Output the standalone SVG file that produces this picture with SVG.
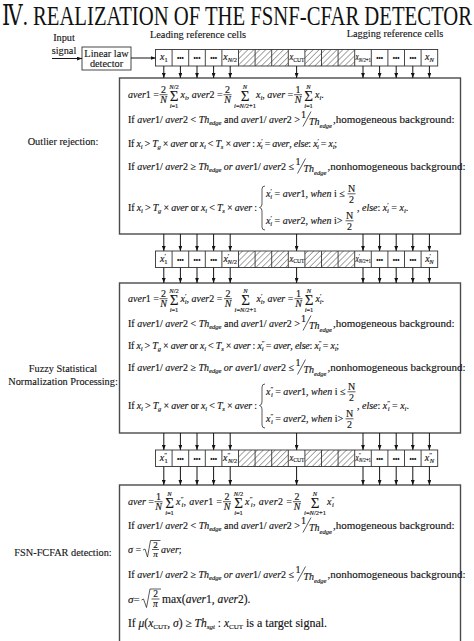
<svg xmlns="http://www.w3.org/2000/svg" width="474" height="641" viewBox="0 0 474 641">
<defs>
<style>
.m{font-family:"Liberation Serif","Times New Roman","DejaVu Serif",serif;font-size:10px;fill:#141414;stroke:#141414;stroke-width:0.15}
.w{font-size:11px}
.i{font-style:italic}
.u{font-style:normal}
.s{font-size:6.5px}
.p{font-size:7px}
.c{text-anchor:middle}
.sg{font-size:15px}
.lb{font-family:"Liberation Serif","Times New Roman",serif;font-size:10.3px;fill:#141414;stroke:#141414;stroke-width:0.12;text-anchor:middle}
.ln{stroke:#141414;stroke-width:0.7;fill:none}
.bx{fill:#fff;stroke:#4a4a4a;stroke-width:1.4}
.cell{fill:none;stroke:#333;stroke-width:0.9}
.ar{stroke:#141414;stroke-width:1;fill:none;marker-end:url(#ah)}
.dots{font-family:"Liberation Sans","DejaVu Sans",sans-serif;font-size:6.5px;font-weight:bold;text-anchor:middle;fill:#141414}
</style>
<marker id="ah" viewBox="0 0 8 6" refX="8" refY="3" markerWidth="5" markerHeight="4" orient="auto" markerUnits="userSpaceOnUse"><path d="M0,0 L8,3 L0,6 z" fill="#141414"/></marker>
<pattern id="hatch" patternUnits="userSpaceOnUse" width="4.2" height="4.2" patternTransform="rotate(45)"><line x1="0" y1="0" x2="0" y2="4.2" stroke="#222" stroke-width="0.8"/></pattern>
</defs>
<rect width="474" height="641" fill="#fff"/>

<g id="title"><text transform="translate(2,24.5) scale(1,1.35)" textLength="470" lengthAdjust="spacingAndGlyphs" style="font-family:'Liberation Serif','DejaVu Serif',serif;font-size:20.5px;fill:#111">Ⅳ. REALIZATION OF THE FSNF-CFAR DETECTOR</text></g>

<g id="input-signal"><text class="lb" x="64" y="41">Input</text><text class="lb" x="64" y="54">signal</text></g>

<g id="linear-law-detector"><rect x="82" y="47" width="49" height="23" fill="#fff" stroke="#333" stroke-width="0.9"/><text class="lb" x="106.5" y="56.5">Linear law</text><text class="lb" x="106.5" y="67">detector</text></g>

<g id="leading-label"><text class="lb" x="198" y="38">Leading reference cells</text></g>
<g id="lagging-label"><text class="lb" x="395" y="37">Lagging reference cells</text></g>

<g id="cells-row1">
<rect x="238.5" y="49.5" width="49.8" height="16.5" fill="url(#hatch)"/><rect x="304.9" y="49.5" width="49.8" height="16.5" fill="url(#hatch)"/>
<rect class="cell" x="155.5" y="49.5" width="282.2" height="16.5"/>
<path class="cell" d="M172.1,49.5v16.5M188.7,49.5v16.5M205.3,49.5v16.5M221.9,49.5v16.5M238.5,49.5v16.5M255.1,49.5v16.5M271.7,49.5v16.5M288.3,49.5v16.5M304.9,49.5v16.5M321.5,49.5v16.5M338.1,49.5v16.5M354.7,49.5v16.5M371.3,49.5v16.5M387.9,49.5v16.5M404.5,49.5v16.5M421.1,49.5v16.5"/>
<text class="m c" x="163.8" y="60"><tspan class="i">x</tspan><tspan class="s" dy="2">1</tspan></text>
<text class="dots" x="180.4" y="60">•••</text><text class="dots" x="197" y="60">•••</text><text class="dots" x="213.6" y="60">•••</text>
<text class="m c" x="230.2" y="60"><tspan class="i">x</tspan><tspan class="s i" dy="2">N</tspan><tspan class="s">/2</tspan></text>
<text class="m" x="289.5" y="60" textLength="15" lengthAdjust="spacingAndGlyphs"><tspan class="i">x</tspan><tspan class="s" dy="1.5">CUT</tspan></text>
<text class="m" x="355.5" y="60" textLength="15.5" lengthAdjust="spacingAndGlyphs"><tspan class="i">x</tspan><tspan class="s i" dy="1.5">N</tspan><tspan class="s">/2+1</tspan></text>
<text class="dots" x="379.6" y="60">•••</text><text class="dots" x="396.2" y="60">•••</text><text class="dots" x="412.8" y="60">•••</text>
<text class="m c" x="429.4" y="60"><tspan class="i">x</tspan><tspan class="s i" dy="2">N</tspan></text>
</g>

<g id="outlier-rejection-box">
<rect class="bx" x="119.5" y="78" width="341" height="156"/>
<text class="m" x="128" y="98"><tspan class="i">aver</tspan>1 =</text>
<text class="m c" x="163.5" y="92.7">2</text><path class="ln" d="M159.5,94.7H167.5"/><text class="m c i" x="163.5" y="103">N</text>
<text class="m c sg" x="174" y="100.5">Σ</text><text class="m c s i" x="174" y="88.5">N<tspan class="u">/2</tspan></text><text class="m c s" x="174" y="107.5"><tspan class="i">i</tspan>=1</text>
<text class="m" x="180.5" y="98"><tspan class="i">x</tspan><tspan class="s i" dy="2">i</tspan><tspan dy="-2">, </tspan><tspan class="i">aver</tspan>2 =</text>
<text class="m c" x="227.5" y="92.7">2</text><path class="ln" d="M223.5,94.7H231.5"/><text class="m c i" x="227.5" y="103">N</text>
<text class="m c sg" x="245" y="100.5">Σ</text><text class="m c s i" x="245" y="88.5">N</text><text class="m c s" x="245" y="107.5"><tspan class="i">i</tspan>=<tspan class="i">N</tspan>/2+1</text>
<text class="m" x="256" y="98"><tspan class="i">x</tspan><tspan class="s i" dy="2">i</tspan><tspan dy="-2">, </tspan><tspan class="i">aver</tspan> =</text>
<text class="m c" x="298" y="92.7">1</text><path class="ln" d="M294,94.7H302"/><text class="m c i" x="298" y="103">N</text>
<text class="m c sg" x="308.5" y="100.5">Σ</text><text class="m c s i" x="308.5" y="88.5">N</text><text class="m c s" x="308.5" y="107.5"><tspan class="i">i</tspan>=1</text>
<text class="m" x="315" y="98"><tspan class="i">x</tspan><tspan class="s i" dy="2">i</tspan><tspan dy="-2">.</tspan></text>

<text class="m" x="128" y="123">If <tspan class="i">aver</tspan>1/ <tspan class="i">aver</tspan>2 &lt; <tspan class="i">Th</tspan><tspan class="s i" dy="2">edge</tspan><tspan dy="-2"> and </tspan><tspan class="i">aver</tspan>1/ <tspan class="i">aver</tspan>2 &gt;</text>
<text class="m" x="301" y="117.5">1</text><path class="ln" d="M303,126.5L311,111.5"/><text class="m" x="309" y="125"><tspan class="i">Th</tspan><tspan class="s i" dy="2.5">edge</tspan></text>
<text class="m w" x="333" y="123">,homogeneous background:</text>

<text class="m" x="128" y="147" textLength="209" lengthAdjust="spacing">If <tspan class="i">x</tspan><tspan class="s i" dy="2">i</tspan><tspan dy="-2"> &gt; </tspan><tspan class="i">T</tspan><tspan class="s i" dy="2">g</tspan><tspan dy="-2"> × </tspan><tspan class="i">aver</tspan> or <tspan class="i">x</tspan><tspan class="s i" dy="2">i</tspan><tspan dy="-2"> &lt; </tspan><tspan class="i">T</tspan><tspan class="s i" dy="2">s</tspan><tspan dy="-2"> × </tspan><tspan class="i">aver</tspan> : <tspan class="i">x</tspan><tspan class="p" dy="-4">′</tspan><tspan class="s i" dx="-1.8" dy="6">i</tspan><tspan dy="-2"> = </tspan><tspan class="i">aver</tspan>, <tspan class="i">else</tspan>: <tspan class="i">x</tspan><tspan class="p" dy="-4">′</tspan><tspan class="s i" dx="-1.8" dy="6">i</tspan><tspan dy="-2"> = </tspan><tspan class="i">x</tspan><tspan class="s i" dy="2">i</tspan><tspan dy="-2">;</tspan></text>

<text class="m" x="128" y="170">If <tspan class="i">aver</tspan>1/ <tspan class="i">aver</tspan>2 ≥ <tspan class="i">Th</tspan><tspan class="s i" dy="2">edge</tspan><tspan class="i" dy="-2"> or </tspan><tspan class="i">aver</tspan>1/ <tspan class="i">aver</tspan>2 ≤</text>
<text class="m" x="295.5" y="164.5">1</text><path class="ln" d="M297.5,173.5L305.5,158.5"/><text class="m" x="303.5" y="172"><tspan class="i">Th</tspan><tspan class="s i" dy="2.5">edge</tspan></text>
<text class="m w" x="327.5" y="170">,nonhomogeneous background:</text>

<text class="m" x="128" y="210.5" textLength="129" lengthAdjust="spacing">If <tspan class="i">x</tspan><tspan class="s i" dy="2">i</tspan><tspan dy="-2"> &gt; </tspan><tspan class="i">T</tspan><tspan class="s i" dy="2">g</tspan><tspan dy="-2"> × </tspan><tspan class="i">aver</tspan> or <tspan class="i">x</tspan><tspan class="s i" dy="2">i</tspan><tspan dy="-2"> &lt; </tspan><tspan class="i">T</tspan><tspan class="s i" dy="2">s</tspan><tspan dy="-2"> × </tspan><tspan class="i">aver</tspan> :</text>
<path class="ln" d="M265,186Q262,186 262,189L262,204Q262,207 259.5,207.5Q262,208 262,211L262,227Q262,230 265,230"/>
<text class="m" x="266" y="197"><tspan class="i">x</tspan><tspan class="p" dy="-4">′</tspan><tspan class="s i" dx="-1.8" dy="6">i</tspan><tspan dy="-2"> = </tspan><tspan class="i">aver</tspan>1, <tspan class="i">when</tspan> i ≤</text>
<text class="m c" x="351.5" y="192.3">N</text><path class="ln" d="M347.5,193.8H355.5"/><text class="m c" x="351.5" y="202.5">2</text>
<text class="m" x="357" y="210.5">, <tspan class="i">else</tspan>: <tspan class="i">x</tspan><tspan class="p" dy="-4">′</tspan><tspan class="s i" dx="-1.8" dy="6">i</tspan><tspan dy="-2"> = </tspan><tspan class="i">x</tspan><tspan class="s i" dy="2">i</tspan><tspan dy="-2">.</tspan></text>
<text class="m" x="266" y="224"><tspan class="i">x</tspan><tspan class="p" dy="-4">′</tspan><tspan class="s i" dx="-1.8" dy="6">i</tspan><tspan dy="-2"> = </tspan><tspan class="i">aver</tspan>2, <tspan class="i">when</tspan> i&gt;</text>
<text class="m c" x="349.5" y="219.3">N</text><path class="ln" d="M345.5,220.8H353.5"/><text class="m c" x="349.5" y="229.5">2</text>
</g>
<g id="outlier-label"><text class="lb" x="63" y="145">Outlier rejection:</text></g>

<g id="cells-row2">
<rect x="238.5" y="251" width="49.8" height="16.5" fill="url(#hatch)"/><rect x="304.9" y="251" width="49.8" height="16.5" fill="url(#hatch)"/>
<rect class="cell" x="155.5" y="251" width="282.2" height="16.5"/>
<path class="cell" d="M172.1,251v16.5M188.7,251v16.5M205.3,251v16.5M221.9,251v16.5M238.5,251v16.5M255.1,251v16.5M271.7,251v16.5M288.3,251v16.5M304.9,251v16.5M321.5,251v16.5M338.1,251v16.5M354.7,251v16.5M371.3,251v16.5M387.9,251v16.5M404.5,251v16.5M421.1,251v16.5"/>
<text class="m c" x="163.8" y="261.5"><tspan class="i">x</tspan><tspan class="p" dy="-3.5">′</tspan><tspan class="s" dx="-1.8" dy="5.5">1</tspan></text>
<text class="dots" x="180.4" y="261.5">•••</text><text class="dots" x="197" y="261.5">•••</text><text class="dots" x="213.6" y="261.5">•••</text>
<text class="m c" x="230.2" y="261.5"><tspan class="i">x</tspan><tspan class="p" dy="-3.5">′</tspan><tspan class="s i" dx="-1.8" dy="5.5">N</tspan><tspan class="s">/2</tspan></text>
<text class="m" x="289.5" y="261.5" textLength="15" lengthAdjust="spacingAndGlyphs"><tspan class="i">x</tspan><tspan class="s" dy="1.5">CUT</tspan></text>
<text class="m" x="355.5" y="261.5" textLength="15.5" lengthAdjust="spacingAndGlyphs"><tspan class="i">x</tspan><tspan class="p" dy="-3.5">′</tspan><tspan class="s i" dx="-1.8" dy="5">N</tspan><tspan class="s">/2+1</tspan></text>
<text class="dots" x="379.6" y="261.5">•••</text><text class="dots" x="396.2" y="261.5">•••</text><text class="dots" x="412.8" y="261.5">•••</text>
<text class="m c" x="429.4" y="261.5"><tspan class="i">x</tspan><tspan class="p" dy="-3.5">′</tspan><tspan class="s i" dx="-1.8" dy="5.5">N</tspan></text>
</g>

<g id="fsn-box">
<rect class="bx" x="119.5" y="283" width="341" height="150"/>
<text class="m" x="128" y="302"><tspan class="i">aver</tspan>1 =</text>
<text class="m c" x="163.5" y="296.7">2</text><path class="ln" d="M159.5,298.7H167.5"/><text class="m c i" x="163.5" y="307">N</text>
<text class="m c sg" x="174" y="304.5">Σ</text><text class="m c s i" x="174" y="292.5">N<tspan class="u">/2</tspan></text><text class="m c s" x="174" y="311.5"><tspan class="i">i</tspan>=1</text>
<text class="m" x="180.5" y="302"><tspan class="i">x</tspan><tspan class="p" dy="-4">′</tspan><tspan class="s i" dx="-1.8" dy="6">i</tspan><tspan dy="-2">, </tspan><tspan class="i">aver</tspan>2 =</text>
<text class="m c" x="228" y="296.7">2</text><path class="ln" d="M224,298.7H232"/><text class="m c i" x="228" y="307">N</text>
<text class="m c sg" x="245.5" y="304.5">Σ</text><text class="m c s i" x="245.5" y="292.5">N</text><text class="m c s" x="245.5" y="311.5"><tspan class="i">i</tspan>=<tspan class="i">N</tspan>/2+1</text>
<text class="m" x="256.5" y="302"><tspan class="i">x</tspan><tspan class="p" dy="-4">′</tspan><tspan class="s i" dx="-1.8" dy="6">i</tspan><tspan dy="-2">, </tspan><tspan class="i">aver</tspan> =</text>
<text class="m c" x="298.5" y="296.7">1</text><path class="ln" d="M294.5,298.7H302.5"/><text class="m c i" x="298.5" y="307">N</text>
<text class="m c sg" x="309" y="304.5">Σ</text><text class="m c s i" x="309" y="292.5">N</text><text class="m c s" x="309" y="311.5"><tspan class="i">i</tspan>=1</text>
<text class="m" x="315.5" y="302"><tspan class="i">x</tspan><tspan class="p" dy="-4">′</tspan><tspan class="s i" dx="-1.8" dy="6">i</tspan><tspan dy="-2">.</tspan></text>

<text class="m" x="128" y="327">If <tspan class="i">aver</tspan>1/ <tspan class="i">aver</tspan>2 &lt; <tspan class="i">Th</tspan><tspan class="s i" dy="2">edge</tspan><tspan dy="-2"> and </tspan><tspan class="i">aver</tspan>1/ <tspan class="i">aver</tspan>2 &gt;</text>
<text class="m" x="301" y="321.5">1</text><path class="ln" d="M303,330.5L311,315.5"/><text class="m" x="309" y="329"><tspan class="i">Th</tspan><tspan class="s i" dy="2.5">edge</tspan></text>
<text class="m w" x="333" y="327">,homogeneous background:</text>

<text class="m" x="128" y="349" textLength="211" lengthAdjust="spacing">If <tspan class="i">x</tspan><tspan class="s i" dy="2">i</tspan><tspan dy="-2"> &gt; </tspan><tspan class="i">T</tspan><tspan class="s i" dy="2">g</tspan><tspan dy="-2"> × </tspan><tspan class="i">aver</tspan> or <tspan class="i">x</tspan><tspan class="s i" dy="2">i</tspan><tspan dy="-2"> &lt; </tspan><tspan class="i">T</tspan><tspan class="s i" dy="2">s</tspan><tspan dy="-2"> × </tspan><tspan class="i">aver</tspan> : <tspan class="i">x</tspan><tspan class="p" dy="-4">″</tspan><tspan class="s i" dx="-2.5" dy="6">i</tspan><tspan dy="-2"> = </tspan><tspan class="i">aver</tspan>, <tspan class="i">else</tspan>: <tspan class="i">x</tspan><tspan class="p" dy="-4">″</tspan><tspan class="s i" dx="-2.5" dy="6">i</tspan><tspan dy="-2"> = </tspan><tspan class="i">x</tspan><tspan class="s i" dy="2">i</tspan><tspan dy="-2">;</tspan></text>

<text class="m" x="128" y="371">If <tspan class="i">aver</tspan>1/ <tspan class="i">aver</tspan>2 ≥ <tspan class="i">Th</tspan><tspan class="s i" dy="2">edge</tspan><tspan class="i" dy="-2"> or </tspan><tspan class="i">aver</tspan>1/ <tspan class="i">aver</tspan>2 ≤</text>
<text class="m" x="295.5" y="365.5">1</text><path class="ln" d="M297.5,374.5L305.5,359.5"/><text class="m" x="303.5" y="373"><tspan class="i">Th</tspan><tspan class="s i" dy="2.5">edge</tspan></text>
<text class="m w" x="327.5" y="371">,nonhomogeneous background:</text>

<text class="m" x="128" y="408.5" textLength="129" lengthAdjust="spacing">If <tspan class="i">x</tspan><tspan class="s i" dy="2">i</tspan><tspan dy="-2"> &gt; </tspan><tspan class="i">T</tspan><tspan class="s i" dy="2">g</tspan><tspan dy="-2"> × </tspan><tspan class="i">aver</tspan> or <tspan class="i">x</tspan><tspan class="s i" dy="2">i</tspan><tspan dy="-2"> &lt; </tspan><tspan class="i">T</tspan><tspan class="s i" dy="2">s</tspan><tspan dy="-2"> × </tspan><tspan class="i">aver</tspan> :</text>
<path class="ln" d="M265,384Q262,384 262,387L262,402Q262,405 259.5,405.5Q262,406 262,409L262,425Q262,428 265,428"/>
<text class="m" x="266" y="395"><tspan class="i">x</tspan><tspan class="p" dy="-4">″</tspan><tspan class="s i" dx="-2.5" dy="6">i</tspan><tspan dy="-2"> = </tspan><tspan class="i">aver</tspan>1, <tspan class="i">when</tspan> i ≤</text>
<text class="m c" x="351.5" y="390.3">N</text><path class="ln" d="M347.5,391.8H355.5"/><text class="m c" x="351.5" y="400.5">2</text>
<text class="m" x="357" y="408.5">, <tspan class="i">else</tspan>: <tspan class="i">x</tspan><tspan class="p" dy="-4">″</tspan><tspan class="s i" dx="-2.5" dy="6">i</tspan><tspan dy="-2"> = </tspan><tspan class="i">x</tspan><tspan class="s i" dy="2">i</tspan><tspan dy="-2">.</tspan></text>
<text class="m" x="266" y="422"><tspan class="i">x</tspan><tspan class="p" dy="-4">″</tspan><tspan class="s i" dx="-2.5" dy="6">i</tspan><tspan dy="-2"> = </tspan><tspan class="i">aver</tspan>2, <tspan class="i">when</tspan> i&gt;</text>
<text class="m c" x="349.5" y="417.3">N</text><path class="ln" d="M345.5,418.8H353.5"/><text class="m c" x="349.5" y="427.5">2</text>
</g>
<g id="fsn-label"><text class="lb" x="63" y="372">Fuzzy Statistical</text><text class="lb" x="63" y="385">Normalization Processing:</text></g>

<g id="cells-row3">
<rect x="238.5" y="450" width="49.8" height="16.5" fill="url(#hatch)"/><rect x="304.9" y="450" width="49.8" height="16.5" fill="url(#hatch)"/>
<rect class="cell" x="155.5" y="450" width="282.2" height="16.5"/>
<path class="cell" d="M172.1,450v16.5M188.7,450v16.5M205.3,450v16.5M221.9,450v16.5M238.5,450v16.5M255.1,450v16.5M271.7,450v16.5M288.3,450v16.5M304.9,450v16.5M321.5,450v16.5M338.1,450v16.5M354.7,450v16.5M371.3,450v16.5M387.9,450v16.5M404.5,450v16.5M421.1,450v16.5"/>
<text class="m c" x="163.8" y="460.5"><tspan class="i">x</tspan><tspan class="p" dy="-3.5">″</tspan><tspan class="s" dx="-2.5" dy="5.5">1</tspan></text>
<text class="dots" x="180.4" y="460.5">•••</text><text class="dots" x="197" y="460.5">•••</text><text class="dots" x="213.6" y="460.5">•••</text>
<text class="m c" x="230.2" y="460.5"><tspan class="i">x</tspan><tspan class="p" dy="-3.5">″</tspan><tspan class="s i" dx="-2.5" dy="5.5">N</tspan><tspan class="s">/2</tspan></text>
<text class="m" x="289.5" y="460.5" textLength="15" lengthAdjust="spacingAndGlyphs"><tspan class="i">x</tspan><tspan class="s" dy="1.5">CUT</tspan></text>
<text class="m" x="355.5" y="460.5" textLength="15.5" lengthAdjust="spacingAndGlyphs"><tspan class="i">x</tspan><tspan class="p" dy="-3.5">″</tspan><tspan class="s i" dx="-2.5" dy="5">N</tspan><tspan class="s">/2+1</tspan></text>
<text class="dots" x="379.6" y="460.5">•••</text><text class="dots" x="396.2" y="460.5">•••</text><text class="dots" x="412.8" y="460.5">•••</text>
<text class="m c" x="429.4" y="460.5"><tspan class="i">x</tspan><tspan class="p" dy="-3.5">″</tspan><tspan class="s i" dx="-2.5" dy="5.5">N</tspan></text>
</g>

<g id="detection-box">
<rect class="bx" x="119.5" y="485" width="341" height="162"/>
<text class="m" x="128" y="505"><tspan class="i">aver</tspan> =</text>
<text class="m c" x="158.5" y="499.7">1</text><path class="ln" d="M154.5,501.7H162.5"/><text class="m c i" x="158.5" y="510">N</text>
<text class="m c sg" x="169.5" y="507.5">Σ</text><text class="m c s i" x="169.5" y="495.5">N</text><text class="m c s" x="169.5" y="514.5"><tspan class="i">i</tspan>=1</text>
<text class="m" x="176" y="505" textLength="46" lengthAdjust="spacing"><tspan class="i">x</tspan><tspan class="p" dy="-4">″</tspan><tspan class="s i" dx="-2.5" dy="6">i</tspan><tspan dy="-2">, </tspan><tspan class="i">aver</tspan>1 =</text>
<text class="m c" x="227" y="499.7">2</text><path class="ln" d="M223,501.7H231"/><text class="m c i" x="227" y="510">N</text>
<text class="m c sg" x="238.5" y="507.5">Σ</text><text class="m c s i" x="238.5" y="495.5">N<tspan class="u">/2</tspan></text><text class="m c s" x="238.5" y="514.5"><tspan class="i">i</tspan>=1</text>
<text class="m" x="245" y="505" textLength="47" lengthAdjust="spacing"><tspan class="i">x</tspan><tspan class="p" dy="-4">″</tspan><tspan class="s i" dx="-2.5" dy="6">i</tspan><tspan dy="-2">, </tspan><tspan class="i">aver</tspan>2 =</text>
<text class="m c" x="297" y="499.7">2</text><path class="ln" d="M293,501.7H301"/><text class="m c i" x="297" y="510">N</text>
<text class="m c sg" x="315" y="507.5">Σ</text><text class="m c s i" x="315" y="495.5">N</text><text class="m c s" x="315" y="514.5"><tspan class="i">i</tspan>=<tspan class="i">N</tspan>/2+1</text>
<text class="m" x="327" y="505"><tspan class="i">x</tspan><tspan class="p" dy="-4">″</tspan><tspan class="s i" dx="-2.5" dy="6">i</tspan></text>

<text class="m" x="128" y="529">If <tspan class="i">aver</tspan>1/ <tspan class="i">aver</tspan>2 &lt; <tspan class="i">Th</tspan><tspan class="s i" dy="2">edge</tspan><tspan dy="-2"> and </tspan><tspan class="i">aver</tspan>1/ <tspan class="i">aver</tspan>2 &gt;</text>
<text class="m" x="301" y="523.5">1</text><path class="ln" d="M303,532.5L311,517.5"/><text class="m" x="309" y="531"><tspan class="i">Th</tspan><tspan class="s i" dy="2.5">edge</tspan></text>
<text class="m w" x="333" y="529">,homogeneous background:</text>

<text class="m" x="128" y="553"><tspan class="i">σ</tspan> =</text>
<path class="ln" d="M143,550L145,549L147.5,557L150.5,540.5H160.5"/>
<text class="m c" x="155.5" y="547.5" style="font-size:9px">2</text><path class="ln" d="M152,549.5H159"/><text class="m c i" x="155.5" y="556.5" style="font-size:9px">π</text>
<text class="m" x="161" y="553"><tspan class="i">aver</tspan>;</text>

<text class="m" x="128" y="578">If <tspan class="i">aver</tspan>1/ <tspan class="i">aver</tspan>2 ≥ <tspan class="i">Th</tspan><tspan class="s i" dy="2">edge</tspan><tspan class="i" dy="-2"> or </tspan><tspan class="i">aver</tspan>1/ <tspan class="i">aver</tspan>2 ≤</text>
<text class="m" x="295.5" y="572.5">1</text><path class="ln" d="M297.5,581.5L305.5,566.5"/><text class="m" x="303.5" y="580"><tspan class="i">Th</tspan><tspan class="s i" dy="2.5">edge</tspan></text>
<text class="m w" x="327.5" y="578">,nonhomogeneous background:</text>

<text class="m" x="128" y="603" style="font-size:11px"><tspan class="i">σ</tspan>=</text>
<path class="ln" d="M141.5,600L143.5,599L146.5,607.5L150,589H161"/>
<text class="m c" x="155.5" y="597" style="font-size:9.5px">2</text><path class="ln" d="M151.5,599H159.5"/><text class="m c i" x="155.5" y="606.5" style="font-size:9.5px">π</text>
<text class="m" x="162" y="603" style="font-size:11.5px">max(<tspan class="i">aver</tspan>1, <tspan class="i">aver</tspan>2).</text>

<text class="m" x="128" y="627" style="font-size:11.5px">If <tspan class="i">μ</tspan>(<tspan class="i">x</tspan><tspan style="font-size:7px" dy="2">CUT</tspan><tspan dy="-2">, </tspan><tspan class="i">σ</tspan>) ≥ <tspan class="i">Th</tspan><tspan class="i" style="font-size:7px" dy="2">sgt</tspan><tspan dy="-2"> : </tspan><tspan class="i">x</tspan><tspan style="font-size:7px" dy="2">CUT</tspan><tspan dy="-2" style="font-size:12px"> is a target signal.</tspan></text>
</g>
<g id="detection-label"><text class="lb" x="63" y="556">FSN-FCFAR detection:</text></g>

<g id="connectors">
<path class="ar" d="M52,58.5H82"/>
<path class="ar" d="M131,58H155.5"/>
<path class="ar" d="M163.8,66V78"/><path class="ar" d="M180.4,66V78"/><path class="ar" d="M197,66V78"/><path class="ar" d="M213.6,66V78"/><path class="ar" d="M230.2,66V78"/><path class="ar" d="M296.6,66V78"/><path class="ar" d="M363,66V78"/><path class="ar" d="M379.6,66V78"/><path class="ar" d="M396.2,66V78"/><path class="ar" d="M412.8,66V78"/><path class="ar" d="M429.4,66V78"/>
<path class="ar" d="M163.8,234V251"/><path class="ar" d="M180.4,234V251"/><path class="ar" d="M197,234V251"/><path class="ar" d="M213.6,234V251"/><path class="ar" d="M230.2,234V251"/><path class="ar" d="M296.6,234V251"/><path class="ar" d="M363,234V251"/><path class="ar" d="M379.6,234V251"/><path class="ar" d="M396.2,234V251"/><path class="ar" d="M412.8,234V251"/><path class="ar" d="M429.4,234V251"/>
<path class="ar" d="M163.8,267.5V283"/><path class="ar" d="M180.4,267.5V283"/><path class="ar" d="M197,267.5V283"/><path class="ar" d="M213.6,267.5V283"/><path class="ar" d="M230.2,267.5V283"/><path class="ar" d="M296.6,267.5V283"/><path class="ar" d="M363,267.5V283"/><path class="ar" d="M379.6,267.5V283"/><path class="ar" d="M396.2,267.5V283"/><path class="ar" d="M412.8,267.5V283"/><path class="ar" d="M429.4,267.5V283"/>
<path class="ar" d="M163.8,433V450"/><path class="ar" d="M180.4,433V450"/><path class="ar" d="M197,433V450"/><path class="ar" d="M213.6,433V450"/><path class="ar" d="M230.2,433V450"/><path class="ar" d="M296.6,433V450"/><path class="ar" d="M363,433V450"/><path class="ar" d="M379.6,433V450"/><path class="ar" d="M396.2,433V450"/><path class="ar" d="M412.8,433V450"/><path class="ar" d="M429.4,433V450"/>
<path class="ar" d="M163.8,466.5V485"/><path class="ar" d="M180.4,466.5V485"/><path class="ar" d="M197,466.5V485"/><path class="ar" d="M213.6,466.5V485"/><path class="ar" d="M230.2,466.5V485"/><path class="ar" d="M296.6,466.5V485"/><path class="ar" d="M363,466.5V485"/><path class="ar" d="M379.6,466.5V485"/><path class="ar" d="M396.2,466.5V485"/><path class="ar" d="M412.8,466.5V485"/><path class="ar" d="M429.4,466.5V485"/>
</g>
</svg>
